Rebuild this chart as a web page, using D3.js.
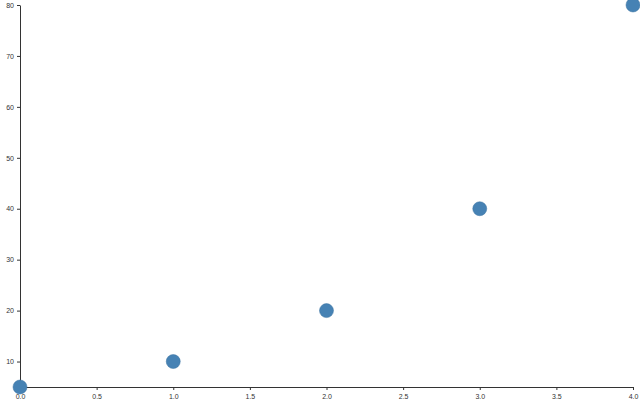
<!DOCTYPE html>
<html>
<head>
<meta charset="utf-8">
<script src="https://cdn.jsdelivr.net/npm/d3@7"></script>
<style>
  html, body { margin: 0; padding: 0; background: #fff; }
  svg { display: block; }
</style>
</head>
<body>
<div id="chart"></div>
<script>
const xValues = [0, 1, 2, 3, 4]
const yValues = [5, 10, 20, 40, 80]
const xTicks = [0, 0.5, 1, 1.5, 2, 2.5, 3, 3.5, 4]
const yTicks = [10, 20, 30, 40, 50, 60, 70, 80]

const width = 640
const height = 400
const margin = { top: 5, right: 7, bottom: 13, left: 20 }

const svg = d3.select('#chart')
  .append('svg')
  .attr('width', width)
  .attr('height', height)

const x = d3.scaleLinear()
  .domain(d3.extent(xValues))
  .range([margin.left, width - margin.right])

const y = d3.scaleLinear()
  .domain(d3.extent(yValues))
  .range([height - margin.bottom, margin.top])

const xAxis = svg.append('g')
  .attr('transform', `translate(0, ${height - margin.bottom})`)
  .call(d3.axisBottom(x).tickValues(xTicks).tickFormat(d3.format('.1f')).tickSize(3).tickSizeOuter(0))

const yAxis = svg.append('g')
  .attr('transform', `translate(${margin.left}, 0)`)
  .call(d3.axisLeft(y).tickValues(yTicks).tickSize(3).tickSizeOuter(0))

svg.selectAll('.tick text')
  .attr('font-size', 7)
  .attr('font-family', 'Liberation Sans, Arial, sans-serif')
  .attr('fill', '#333')
xAxis.selectAll('.tick text').attr('dy', '0.9em')
svg.selectAll('.domain, .tick line').attr('stroke', '#333')

const points = xValues.map((d, i) => ({ x: d, y: yValues[i] }))

svg.selectAll('circle')
  .data(points)
  .enter()
  .append('circle')
  .attr('cx', d => x(d.x))
  .attr('cy', d => y(d.y))
  .attr('r', 7)
  .attr('fill', 'steelblue')
  .attr('stroke', '#3a72a0')
  .attr('stroke-width', 0.5)
</script>
</body>
</html>
